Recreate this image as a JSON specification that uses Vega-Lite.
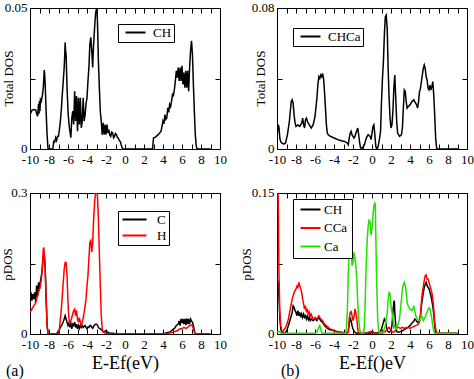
{
"$schema":"https://vega.github.io/schema/vega-lite/v6.json",
"padding":{"left":0,"top":0,"right":0,"bottom":0},
"bounds":"flush",
"columns":2,
"spacing":{"row":44,"column":57},
"resolve":{"scale":{"color":"independent","x":"independent","y":"independent"},"legend":{"color":"independent"}},
"config":{
 "view":{"stroke":"black","strokeWidth":1},
 "font":"Liberation Serif",
 "axis":{"grid":false,"domain":false,"tickColor":"black","tickSize":-5,"tickWidth":1,"labelOverlap":false,"labelFlush":false,"labelFont":"Liberation Serif","labelFontSize":13,"labelColor":"black","labelPadding":8,"titleFont":"Liberation Serif","titleFontWeight":"normal","titleColor":"black","titleFontSize":13},
 "axisX":{"labelPadding":9},
 "axisY":{"labelOffset":-1},
 "legend":{"orient":"none","symbolType":"M-2.5,0H2.5","symbolSize":64,"symbolStrokeWidth":2,"labelFont":"Liberation Serif","labelFontSize":13,"labelColor":"black","strokeColor":"black","fillColor":"white","title":null},
 "title":{"font":"Liberation Serif","fontWeight":"normal","fontSize":16,"color":"black"}
},
"datasets":{
"tl":[
{"x":-10,"y":0.0122,"s":"CH"},{"x":-9.8,"y":0.0137,"s":"CH"},{"x":-9.6,"y":0.014,"s":"CH"},{"x":-9.4,"y":0.0139,"s":"CH"},{"x":-9.3,"y":0.0125,"s":"CH"},{"x":-9.2,"y":0.0116,"s":"CH"},{"x":-9.1,"y":0.016,"s":"CH"},{"x":-9.05,"y":0.0125,"s":"CH"},{"x":-9.0,"y":0.017,"s":"CH"},{"x":-8.95,"y":0.0135,"s":"CH"},{"x":-8.9,"y":0.0176,"s":"CH"},{"x":-8.8,"y":0.017,"s":"CH"},{"x":-8.7,"y":0.019,"s":"CH"},{"x":-8.6,"y":0.0217,"s":"CH"},{"x":-8.5,"y":0.028,"s":"CH"},{"x":-8.45,"y":0.026,"s":"CH"},{"x":-8.4,"y":0.0229,"s":"CH"},{"x":-8.3,"y":0.013,"s":"CH"},{"x":-8.2,"y":0.005,"s":"CH"},{"x":-8.1,"y":0,"s":"CH"},{"x":-7.6,"y":0,"s":"CH"},{"x":-7.5,"y":0.0027,"s":"CH"},{"x":-7.4,"y":0.0025,"s":"CH"},{"x":-7.3,"y":0.004,"s":"CH"},{"x":-7.2,"y":0.003,"s":"CH"},{"x":-7.1,"y":0.0045,"s":"CH"},{"x":-7.0,"y":0.0045,"s":"CH"},{"x":-6.9,"y":0.007,"s":"CH"},{"x":-6.8,"y":0.0099,"s":"CH"},{"x":-6.7,"y":0.014,"s":"CH"},{"x":-6.6,"y":0.0194,"s":"CH"},{"x":-6.5,"y":0.024,"s":"CH"},{"x":-6.4,"y":0.0289,"s":"CH"},{"x":-6.35,"y":0.033,"s":"CH"},{"x":-6.3,"y":0.0378,"s":"CH"},{"x":-6.25,"y":0.0345,"s":"CH"},{"x":-6.2,"y":0.0336,"s":"CH"},{"x":-6.1,"y":0.0217,"s":"CH"},{"x":-6.0,"y":0.0134,"s":"CH"},{"x":-5.9,"y":0.009,"s":"CH"},{"x":-5.8,"y":0.0063,"s":"CH"},{"x":-5.7,"y":0.004,"s":"CH"},{"x":-5.6,"y":0.011,"s":"CH"},{"x":-5.5,"y":0.0134,"s":"CH"},{"x":-5.4,"y":0.0087,"s":"CH"},{"x":-5.3,"y":0.0205,"s":"CH"},{"x":-5.2,"y":0.0099,"s":"CH"},{"x":-5.1,"y":0.0188,"s":"CH"},{"x":-5.0,"y":0.0063,"s":"CH"},{"x":-4.9,"y":0.0182,"s":"CH"},{"x":-4.8,"y":0.0087,"s":"CH"},{"x":-4.7,"y":0.0182,"s":"CH"},{"x":-4.6,"y":0.0075,"s":"CH"},{"x":-4.5,"y":0.0099,"s":"CH"},{"x":-4.4,"y":0.0182,"s":"CH"},{"x":-4.3,"y":0.0099,"s":"CH"},{"x":-4.2,"y":0.0122,"s":"CH"},{"x":-4.1,"y":0.016,"s":"CH"},{"x":-4.0,"y":0.0182,"s":"CH"},{"x":-3.9,"y":0.024,"s":"CH"},{"x":-3.8,"y":0.0289,"s":"CH"},{"x":-3.7,"y":0.0372,"s":"CH"},{"x":-3.6,"y":0.0396,"s":"CH"},{"x":-3.5,"y":0.0348,"s":"CH"},{"x":-3.45,"y":0.032,"s":"CH"},{"x":-3.4,"y":0.0289,"s":"CH"},{"x":-3.35,"y":0.034,"s":"CH"},{"x":-3.3,"y":0.0372,"s":"CH"},{"x":-3.2,"y":0.0431,"s":"CH"},{"x":-3.1,"y":0.0479,"s":"CH"},{"x":-3.0,"y":0.05,"s":"CH"},{"x":-2.95,"y":0.049,"s":"CH"},{"x":-2.9,"y":0.0455,"s":"CH"},{"x":-2.8,"y":0.0312,"s":"CH"},{"x":-2.7,"y":0.0217,"s":"CH"},{"x":-2.6,"y":0.0134,"s":"CH"},{"x":-2.5,"y":0.0099,"s":"CH"},{"x":-2.4,"y":0.0051,"s":"CH"},{"x":-2.3,"y":0.0093,"s":"CH"},{"x":-2.2,"y":0.0051,"s":"CH"},{"x":-2.1,"y":0.0087,"s":"CH"},{"x":-2.0,"y":0.0051,"s":"CH"},{"x":-1.9,"y":0.0087,"s":"CH"},{"x":-1.8,"y":0.0057,"s":"CH"},{"x":-1.7,"y":0.0069,"s":"CH"},{"x":-1.6,"y":0.005,"s":"CH"},{"x":-1.5,"y":0.0045,"s":"CH"},{"x":-1.4,"y":0.006,"s":"CH"},{"x":-1.3,"y":0.0057,"s":"CH"},{"x":-1.2,"y":0.004,"s":"CH"},{"x":-1.1,"y":0.0045,"s":"CH"},{"x":-1.0,"y":0.0055,"s":"CH"},{"x":-0.9,"y":0.0051,"s":"CH"},{"x":-0.8,"y":0.004,"s":"CH"},{"x":-0.7,"y":0.0039,"s":"CH"},{"x":-0.6,"y":0.003,"s":"CH"},{"x":-0.5,"y":0.0027,"s":"CH"},{"x":-0.4,"y":0.0015,"s":"CH"},{"x":-0.3,"y":0.0004,"s":"CH"},{"x":-0.2,"y":0,"s":"CH"},{"x":2.9,"y":0,"s":"CH"},{"x":3.0,"y":0.0039,"s":"CH"},{"x":3.2,"y":0.0042,"s":"CH"},{"x":3.5,"y":0.0051,"s":"CH"},{"x":3.8,"y":0.0063,"s":"CH"},{"x":4.0,"y":0.0099,"s":"CH"},{"x":4.1,"y":0.009,"s":"CH"},{"x":4.2,"y":0.0122,"s":"CH"},{"x":4.3,"y":0.0105,"s":"CH"},{"x":4.4,"y":0.011,"s":"CH"},{"x":4.5,"y":0.0146,"s":"CH"},{"x":4.6,"y":0.013,"s":"CH"},{"x":4.7,"y":0.0158,"s":"CH"},{"x":4.8,"y":0.015,"s":"CH"},{"x":4.9,"y":0.017,"s":"CH"},{"x":5.0,"y":0.0194,"s":"CH"},{"x":5.1,"y":0.019,"s":"CH"},{"x":5.2,"y":0.0211,"s":"CH"},{"x":5.3,"y":0.0241,"s":"CH"},{"x":5.4,"y":0.0277,"s":"CH"},{"x":5.5,"y":0.0253,"s":"CH"},{"x":5.6,"y":0.0289,"s":"CH"},{"x":5.7,"y":0.0241,"s":"CH"},{"x":5.8,"y":0.0289,"s":"CH"},{"x":5.9,"y":0.0241,"s":"CH"},{"x":6.0,"y":0.0295,"s":"CH"},{"x":6.1,"y":0.0229,"s":"CH"},{"x":6.2,"y":0.0271,"s":"CH"},{"x":6.3,"y":0.0217,"s":"CH"},{"x":6.4,"y":0.0277,"s":"CH"},{"x":6.5,"y":0.0217,"s":"CH"},{"x":6.6,"y":0.0277,"s":"CH"},{"x":6.7,"y":0.0205,"s":"CH"},{"x":6.8,"y":0.0289,"s":"CH"},{"x":6.9,"y":0.0348,"s":"CH"},{"x":7.0,"y":0.0384,"s":"CH"},{"x":7.1,"y":0.0336,"s":"CH"},{"x":7.2,"y":0.0229,"s":"CH"},{"x":7.3,"y":0.0134,"s":"CH"},{"x":7.4,"y":0.0051,"s":"CH"},{"x":7.5,"y":0.001,"s":"CH"},{"x":7.6,"y":0,"s":"CH"},{"x":9.0,"y":0,"s":"CH"}
],
"tr":[
{"x":-10,"y":0.0062,"s":"CHCa"},{"x":-9.9,"y":0.0137,"s":"CHCa"},{"x":-9.8,"y":0.0128,"s":"CHCa"},{"x":-9.7,"y":0.0062,"s":"CHCa"},{"x":-9.6,"y":0.004,"s":"CHCa"},{"x":-9.5,"y":0.0034,"s":"CHCa"},{"x":-9.3,"y":0.0028,"s":"CHCa"},{"x":-9.1,"y":0.0034,"s":"CHCa"},{"x":-8.9,"y":0.0081,"s":"CHCa"},{"x":-8.7,"y":0.0156,"s":"CHCa"},{"x":-8.6,"y":0.0213,"s":"CHCa"},{"x":-8.5,"y":0.0269,"s":"CHCa"},{"x":-8.4,"y":0.0279,"s":"CHCa"},{"x":-8.3,"y":0.026,"s":"CHCa"},{"x":-8.2,"y":0.0194,"s":"CHCa"},{"x":-8.1,"y":0.015,"s":"CHCa"},{"x":-8.0,"y":0.0128,"s":"CHCa"},{"x":-7.8,"y":0.0137,"s":"CHCa"},{"x":-7.6,"y":0.0128,"s":"CHCa"},{"x":-7.4,"y":0.0147,"s":"CHCa"},{"x":-7.3,"y":0.0175,"s":"CHCa"},{"x":-7.2,"y":0.0137,"s":"CHCa"},{"x":-7.1,"y":0.0119,"s":"CHCa"},{"x":-7.0,"y":0.0166,"s":"CHCa"},{"x":-6.9,"y":0.0175,"s":"CHCa"},{"x":-6.8,"y":0.0156,"s":"CHCa"},{"x":-6.6,"y":0.0137,"s":"CHCa"},{"x":-6.4,"y":0.0119,"s":"CHCa"},{"x":-6.2,"y":0.0137,"s":"CHCa"},{"x":-6.0,"y":0.0184,"s":"CHCa"},{"x":-5.8,"y":0.0288,"s":"CHCa"},{"x":-5.7,"y":0.0363,"s":"CHCa"},{"x":-5.6,"y":0.041,"s":"CHCa"},{"x":-5.5,"y":0.04,"s":"CHCa"},{"x":-5.4,"y":0.042,"s":"CHCa"},{"x":-5.3,"y":0.041,"s":"CHCa"},{"x":-5.2,"y":0.0429,"s":"CHCa"},{"x":-5.1,"y":0.04,"s":"CHCa"},{"x":-5.0,"y":0.0326,"s":"CHCa"},{"x":-4.9,"y":0.0232,"s":"CHCa"},{"x":-4.8,"y":0.0137,"s":"CHCa"},{"x":-4.7,"y":0.009,"s":"CHCa"},{"x":-4.6,"y":0.0081,"s":"CHCa"},{"x":-4.4,"y":0.0072,"s":"CHCa"},{"x":-4.2,"y":0.0068,"s":"CHCa"},{"x":-4.0,"y":0.0062,"s":"CHCa"},{"x":-3.8,"y":0.0058,"s":"CHCa"},{"x":-3.6,"y":0.0053,"s":"CHCa"},{"x":-3.4,"y":0.005,"s":"CHCa"},{"x":-3.2,"y":0.0047,"s":"CHCa"},{"x":-2.9,"y":0.0043,"s":"CHCa"},{"x":-2.6,"y":0.0034,"s":"CHCa"},{"x":-2.5,"y":0.0024,"s":"CHCa"},{"x":-2.4,"y":0.006,"s":"CHCa"},{"x":-2.3,"y":0.009,"s":"CHCa"},{"x":-2.2,"y":0.01,"s":"CHCa"},{"x":-2.1,"y":0.008,"s":"CHCa"},{"x":-2.0,"y":0.0072,"s":"CHCa"},{"x":-1.9,"y":0.0062,"s":"CHCa"},{"x":-1.8,"y":0.007,"s":"CHCa"},{"x":-1.7,"y":0.009,"s":"CHCa"},{"x":-1.5,"y":0.0119,"s":"CHCa"},{"x":-1.4,"y":0.0081,"s":"CHCa"},{"x":-1.3,"y":0.0034,"s":"CHCa"},{"x":-1.2,"y":0.0006,"s":"CHCa"},{"x":-1.0,"y":0.0006,"s":"CHCa"},{"x":-0.8,"y":0.0025,"s":"CHCa"},{"x":-0.6,"y":0.0062,"s":"CHCa"},{"x":-0.4,"y":0.0081,"s":"CHCa"},{"x":-0.2,"y":0.0072,"s":"CHCa"},{"x":-0.1,"y":0.0053,"s":"CHCa"},{"x":0.0,"y":0.009,"s":"CHCa"},{"x":0.1,"y":0.0128,"s":"CHCa"},{"x":0.2,"y":0.0137,"s":"CHCa"},{"x":0.3,"y":0.008,"s":"CHCa"},{"x":0.4,"y":0.0015,"s":"CHCa"},{"x":0.5,"y":0,"s":"CHCa"},{"x":0.6,"y":0.0006,"s":"CHCa"},{"x":0.7,"y":0.003,"s":"CHCa"},{"x":0.8,"y":0.0062,"s":"CHCa"},{"x":0.9,"y":0.01,"s":"CHCa"},{"x":1.0,"y":0.0269,"s":"CHCa"},{"x":1.1,"y":0.04,"s":"CHCa"},{"x":1.2,"y":0.0495,"s":"CHCa"},{"x":1.3,"y":0.0646,"s":"CHCa"},{"x":1.4,"y":0.0749,"s":"CHCa"},{"x":1.5,"y":0.0759,"s":"CHCa"},{"x":1.55,"y":0.072,"s":"CHCa"},{"x":1.6,"y":0.0683,"s":"CHCa"},{"x":1.7,"y":0.0457,"s":"CHCa"},{"x":1.8,"y":0.0288,"s":"CHCa"},{"x":1.9,"y":0.0175,"s":"CHCa"},{"x":2.0,"y":0.0119,"s":"CHCa"},{"x":2.1,"y":0.0137,"s":"CHCa"},{"x":2.2,"y":0.0213,"s":"CHCa"},{"x":2.3,"y":0.0344,"s":"CHCa"},{"x":2.4,"y":0.042,"s":"CHCa"},{"x":2.5,"y":0.0288,"s":"CHCa"},{"x":2.6,"y":0.0156,"s":"CHCa"},{"x":2.7,"y":0.009,"s":"CHCa"},{"x":2.9,"y":0.0072,"s":"CHCa"},{"x":3.1,"y":0.0081,"s":"CHCa"},{"x":3.2,"y":0.0119,"s":"CHCa"},{"x":3.3,"y":0.0232,"s":"CHCa"},{"x":3.4,"y":0.0335,"s":"CHCa"},{"x":3.5,"y":0.0326,"s":"CHCa"},{"x":3.6,"y":0.0269,"s":"CHCa"},{"x":3.7,"y":0.0232,"s":"CHCa"},{"x":3.8,"y":0.0241,"s":"CHCa"},{"x":4.0,"y":0.025,"s":"CHCa"},{"x":4.2,"y":0.0269,"s":"CHCa"},{"x":4.4,"y":0.0279,"s":"CHCa"},{"x":4.5,"y":0.0269,"s":"CHCa"},{"x":4.7,"y":0.025,"s":"CHCa"},{"x":4.8,"y":0.0232,"s":"CHCa"},{"x":4.9,"y":0.0269,"s":"CHCa"},{"x":5.0,"y":0.0326,"s":"CHCa"},{"x":5.1,"y":0.0344,"s":"CHCa"},{"x":5.2,"y":0.0382,"s":"CHCa"},{"x":5.3,"y":0.042,"s":"CHCa"},{"x":5.4,"y":0.0457,"s":"CHCa"},{"x":5.5,"y":0.0476,"s":"CHCa"},{"x":5.6,"y":0.0457,"s":"CHCa"},{"x":5.7,"y":0.041,"s":"CHCa"},{"x":5.8,"y":0.0392,"s":"CHCa"},{"x":5.9,"y":0.0344,"s":"CHCa"},{"x":6.0,"y":0.0335,"s":"CHCa"},{"x":6.1,"y":0.0363,"s":"CHCa"},{"x":6.2,"y":0.0335,"s":"CHCa"},{"x":6.3,"y":0.0354,"s":"CHCa"},{"x":6.4,"y":0.0382,"s":"CHCa"},{"x":6.5,"y":0.0307,"s":"CHCa"},{"x":6.6,"y":0.0194,"s":"CHCa"},{"x":6.7,"y":0.0062,"s":"CHCa"},{"x":6.8,"y":0.0006,"s":"CHCa"},{"x":6.9,"y":0,"s":"CHCa"},{"x":9.1,"y":0,"s":"CHCa"}
],
"bl":[
{"x":-10,"y":0.0816,"s":"C"},{"x":-9.9,"y":0.0887,"s":"C"},{"x":-9.8,"y":0.071,"s":"C"},{"x":-9.7,"y":0.085,"s":"C"},{"x":-9.6,"y":0.0745,"s":"C"},{"x":-9.5,"y":0.0887,"s":"C"},{"x":-9.4,"y":0.067,"s":"C"},{"x":-9.3,"y":0.103,"s":"C"},{"x":-9.2,"y":0.08,"s":"C"},{"x":-9.1,"y":0.11,"s":"C"},{"x":-9.0,"y":0.0957,"s":"C"},{"x":-8.9,"y":0.113,"s":"C"},{"x":-8.8,"y":0.124,"s":"C"},{"x":-8.7,"y":0.14,"s":"C"},{"x":-8.6,"y":0.165,"s":"C"},{"x":-8.5,"y":0.17,"s":"C"},{"x":-8.4,"y":0.14,"s":"C"},{"x":-8.3,"y":0.075,"s":"C"},{"x":-8.2,"y":0.018,"s":"C"},{"x":-8.1,"y":0.001,"s":"C"},{"x":-8.0,"y":0,"s":"C"},{"x":-7.2,"y":0,"s":"C"},{"x":-7.1,"y":0.0035,"s":"C"},{"x":-7.0,"y":0.007,"s":"C"},{"x":-6.9,"y":0.01,"s":"C"},{"x":-6.8,"y":0.014,"s":"C"},{"x":-6.7,"y":0.018,"s":"C"},{"x":-6.6,"y":0.021,"s":"C"},{"x":-6.5,"y":0.026,"s":"C"},{"x":-6.4,"y":0.032,"s":"C"},{"x":-6.3,"y":0.039,"s":"C"},{"x":-6.2,"y":0.032,"s":"C"},{"x":-6.1,"y":0.025,"s":"C"},{"x":-6.0,"y":0.018,"s":"C"},{"x":-5.9,"y":0.023,"s":"C"},{"x":-5.8,"y":0.014,"s":"C"},{"x":-5.7,"y":0.025,"s":"C"},{"x":-5.6,"y":0.011,"s":"C"},{"x":-5.5,"y":0.021,"s":"C"},{"x":-5.4,"y":0.018,"s":"C"},{"x":-5.3,"y":0.025,"s":"C"},{"x":-5.2,"y":0.014,"s":"C"},{"x":-5.1,"y":0.021,"s":"C"},{"x":-5.0,"y":0.011,"s":"C"},{"x":-4.9,"y":0.018,"s":"C"},{"x":-4.8,"y":0.012,"s":"C"},{"x":-4.7,"y":0.018,"s":"C"},{"x":-4.6,"y":0.014,"s":"C"},{"x":-4.5,"y":0.018,"s":"C"},{"x":-4.4,"y":0.014,"s":"C"},{"x":-4.3,"y":0.016,"s":"C"},{"x":-4.2,"y":0.018,"s":"C"},{"x":-4.1,"y":0.014,"s":"C"},{"x":-4.0,"y":0.011,"s":"C"},{"x":-3.9,"y":0.015,"s":"C"},{"x":-3.8,"y":0.014,"s":"C"},{"x":-3.7,"y":0.018,"s":"C"},{"x":-3.6,"y":0.018,"s":"C"},{"x":-3.5,"y":0.014,"s":"C"},{"x":-3.4,"y":0.012,"s":"C"},{"x":-3.3,"y":0.016,"s":"C"},{"x":-3.2,"y":0.019,"s":"C"},{"x":-3.1,"y":0.021,"s":"C"},{"x":-3.0,"y":0.021,"s":"C"},{"x":-2.9,"y":0.019,"s":"C"},{"x":-2.8,"y":0.014,"s":"C"},{"x":-2.7,"y":0.012,"s":"C"},{"x":-2.6,"y":0.011,"s":"C"},{"x":-2.5,"y":0.009,"s":"C"},{"x":-2.4,"y":0.007,"s":"C"},{"x":-2.3,"y":0.005,"s":"C"},{"x":-2.2,"y":0.004,"s":"C"},{"x":-2.1,"y":0.006,"s":"C"},{"x":-2.0,"y":0.007,"s":"C"},{"x":-1.9,"y":0.005,"s":"C"},{"x":-1.8,"y":0.004,"s":"C"},{"x":-1.6,"y":0.0015,"s":"C"},{"x":-1.2,"y":0.0015,"s":"C"},{"x":-1.0,"y":0,"s":"C"},{"x":4.0,"y":0,"s":"C"},{"x":4.5,"y":0.0035,"s":"C"},{"x":4.8,"y":0.005,"s":"C"},{"x":5.0,"y":0.009,"s":"C"},{"x":5.2,"y":0.012,"s":"C"},{"x":5.4,"y":0.018,"s":"C"},{"x":5.6,"y":0.021,"s":"C"},{"x":5.7,"y":0.028,"s":"C"},{"x":5.8,"y":0.018,"s":"C"},{"x":5.9,"y":0.032,"s":"C"},{"x":6.0,"y":0.023,"s":"C"},{"x":6.1,"y":0.032,"s":"C"},{"x":6.2,"y":0.021,"s":"C"},{"x":6.3,"y":0.032,"s":"C"},{"x":6.4,"y":0.019,"s":"C"},{"x":6.5,"y":0.033,"s":"C"},{"x":6.6,"y":0.021,"s":"C"},{"x":6.7,"y":0.032,"s":"C"},{"x":6.8,"y":0.021,"s":"C"},{"x":6.9,"y":0.032,"s":"C"},{"x":7.0,"y":0.028,"s":"C"},{"x":7.1,"y":0.025,"s":"C"},{"x":7.2,"y":0.018,"s":"C"},{"x":7.3,"y":0.007,"s":"C"},{"x":7.4,"y":0,"s":"C"},{"x":9.0,"y":0,"s":"C"},
{"x":-10,"y":0.046,"s":"H"},{"x":-9.8,"y":0.053,"s":"H"},{"x":-9.6,"y":0.06,"s":"H"},{"x":-9.4,"y":0.067,"s":"H"},{"x":-9.2,"y":0.0816,"s":"H"},{"x":-9.0,"y":0.0957,"s":"H"},{"x":-8.9,"y":0.103,"s":"H"},{"x":-8.8,"y":0.117,"s":"H"},{"x":-8.7,"y":0.145,"s":"H"},{"x":-8.6,"y":0.181,"s":"H"},{"x":-8.55,"y":0.184,"s":"H"},{"x":-8.5,"y":0.174,"s":"H"},{"x":-8.4,"y":0.138,"s":"H"},{"x":-8.3,"y":0.074,"s":"H"},{"x":-8.2,"y":0.018,"s":"H"},{"x":-8.1,"y":0,"s":"H"},{"x":-7.0,"y":0,"s":"H"},{"x":-6.9,"y":0.011,"s":"H"},{"x":-6.8,"y":0.032,"s":"H"},{"x":-6.7,"y":0.053,"s":"H"},{"x":-6.6,"y":0.0816,"s":"H"},{"x":-6.5,"y":0.11,"s":"H"},{"x":-6.4,"y":0.138,"s":"H"},{"x":-6.3,"y":0.152,"s":"H"},{"x":-6.2,"y":0.152,"s":"H"},{"x":-6.1,"y":0.124,"s":"H"},{"x":-6.0,"y":0.067,"s":"H"},{"x":-5.9,"y":0.032,"s":"H"},{"x":-5.8,"y":0.021,"s":"H"},{"x":-5.7,"y":0.028,"s":"H"},{"x":-5.6,"y":0.035,"s":"H"},{"x":-5.5,"y":0.0426,"s":"H"},{"x":-5.4,"y":0.05,"s":"H"},{"x":-5.3,"y":0.053,"s":"H"},{"x":-5.2,"y":0.039,"s":"H"},{"x":-5.1,"y":0.05,"s":"H"},{"x":-5.0,"y":0.032,"s":"H"},{"x":-4.9,"y":0.025,"s":"H"},{"x":-4.8,"y":0.035,"s":"H"},{"x":-4.7,"y":0.025,"s":"H"},{"x":-4.6,"y":0.018,"s":"H"},{"x":-4.5,"y":0.025,"s":"H"},{"x":-4.4,"y":0.035,"s":"H"},{"x":-4.3,"y":0.046,"s":"H"},{"x":-4.2,"y":0.06,"s":"H"},{"x":-4.1,"y":0.0745,"s":"H"},{"x":-4.0,"y":0.103,"s":"H"},{"x":-3.9,"y":0.124,"s":"H"},{"x":-3.8,"y":0.16,"s":"H"},{"x":-3.7,"y":0.195,"s":"H"},{"x":-3.6,"y":0.199,"s":"H"},{"x":-3.5,"y":0.174,"s":"H"},{"x":-3.4,"y":0.195,"s":"H"},{"x":-3.3,"y":0.245,"s":"H"},{"x":-3.2,"y":0.28,"s":"H"},{"x":-3.1,"y":0.3,"s":"H"},{"x":-3.05,"y":0.31,"s":"H"},{"x":-3.0,"y":0.305,"s":"H"},{"x":-2.9,"y":0.294,"s":"H"},{"x":-2.8,"y":0.245,"s":"H"},{"x":-2.7,"y":0.174,"s":"H"},{"x":-2.6,"y":0.103,"s":"H"},{"x":-2.5,"y":0.039,"s":"H"},{"x":-2.4,"y":0.011,"s":"H"},{"x":-2.3,"y":0.004,"s":"H"},{"x":-2.0,"y":0.001,"s":"H"},{"x":-1.5,"y":0,"s":"H"},{"x":4.0,"y":0,"s":"H"},{"x":4.5,"y":0.001,"s":"H"},{"x":5.0,"y":0.0035,"s":"H"},{"x":5.5,"y":0.007,"s":"H"},{"x":5.8,"y":0.011,"s":"H"},{"x":6.0,"y":0.011,"s":"H"},{"x":6.2,"y":0.014,"s":"H"},{"x":6.4,"y":0.012,"s":"H"},{"x":6.6,"y":0.014,"s":"H"},{"x":6.8,"y":0.018,"s":"H"},{"x":7.0,"y":0.019,"s":"H"},{"x":7.1,"y":0.017,"s":"H"},{"x":7.2,"y":0.011,"s":"H"},{"x":7.3,"y":0.004,"s":"H"},{"x":7.4,"y":0,"s":"H"},{"x":9.0,"y":0,"s":"H"}
],
"br":[
{"x":-10,"y":0.037,"s":"CH"},{"x":-9.95,"y":0.05,"s":"CH"},{"x":-9.9,"y":0.0567,"s":"CH"},{"x":-9.8,"y":0.041,"s":"CH"},{"x":-9.7,"y":0.016,"s":"CH"},{"x":-9.6,"y":0.0053,"s":"CH"},{"x":-9.5,"y":0.0018,"s":"CH"},{"x":-9.2,"y":0.0011,"s":"CH"},{"x":-9.0,"y":0.0028,"s":"CH"},{"x":-8.8,"y":0.0089,"s":"CH"},{"x":-8.6,"y":0.016,"s":"CH"},{"x":-8.4,"y":0.023,"s":"CH"},{"x":-8.3,"y":0.03,"s":"CH"},{"x":-8.2,"y":0.0284,"s":"CH"},{"x":-8.1,"y":0.0248,"s":"CH"},{"x":-8.0,"y":0.023,"s":"CH"},{"x":-7.9,"y":0.0195,"s":"CH"},{"x":-7.8,"y":0.0248,"s":"CH"},{"x":-7.7,"y":0.0195,"s":"CH"},{"x":-7.6,"y":0.023,"s":"CH"},{"x":-7.5,"y":0.0177,"s":"CH"},{"x":-7.4,"y":0.0213,"s":"CH"},{"x":-7.3,"y":0.0177,"s":"CH"},{"x":-7.2,"y":0.0213,"s":"CH"},{"x":-7.1,"y":0.0177,"s":"CH"},{"x":-7.0,"y":0.0195,"s":"CH"},{"x":-6.9,"y":0.016,"s":"CH"},{"x":-6.8,"y":0.0188,"s":"CH"},{"x":-6.7,"y":0.0152,"s":"CH"},{"x":-6.6,"y":0.0177,"s":"CH"},{"x":-6.5,"y":0.0142,"s":"CH"},{"x":-6.4,"y":0.016,"s":"CH"},{"x":-6.2,"y":0.0142,"s":"CH"},{"x":-6.0,"y":0.016,"s":"CH"},{"x":-5.8,"y":0.0142,"s":"CH"},{"x":-5.6,"y":0.0177,"s":"CH"},{"x":-5.5,"y":0.016,"s":"CH"},{"x":-5.4,"y":0.0142,"s":"CH"},{"x":-5.2,"y":0.0124,"s":"CH"},{"x":-5.0,"y":0.0089,"s":"CH"},{"x":-4.8,"y":0.007,"s":"CH"},{"x":-4.6,"y":0.0053,"s":"CH"},{"x":-4.4,"y":0.0046,"s":"CH"},{"x":-4.0,"y":0.0035,"s":"CH"},{"x":-3.6,"y":0.0025,"s":"CH"},{"x":-3.2,"y":0.0018,"s":"CH"},{"x":-2.8,"y":0.0014,"s":"CH"},{"x":-2.5,"y":0.0018,"s":"CH"},{"x":-2.4,"y":0.0106,"s":"CH"},{"x":-2.3,"y":0.0177,"s":"CH"},{"x":-2.2,"y":0.0142,"s":"CH"},{"x":-2.1,"y":0.0089,"s":"CH"},{"x":-2.0,"y":0.0053,"s":"CH"},{"x":-1.9,"y":0.0035,"s":"CH"},{"x":-1.8,"y":0.0018,"s":"CH"},{"x":-1.6,"y":0.0007,"s":"CH"},{"x":-0.2,"y":0.0007,"s":"CH"},{"x":0.0,"y":0.0018,"s":"CH"},{"x":0.4,"y":0.0007,"s":"CH"},{"x":0.8,"y":0.0018,"s":"CH"},{"x":1.0,"y":0.0053,"s":"CH"},{"x":1.2,"y":0.0124,"s":"CH"},{"x":1.3,"y":0.016,"s":"CH"},{"x":1.4,"y":0.0142,"s":"CH"},{"x":1.5,"y":0.0089,"s":"CH"},{"x":1.6,"y":0.0035,"s":"CH"},{"x":1.8,"y":0.0018,"s":"CH"},{"x":2.0,"y":0.0035,"s":"CH"},{"x":2.1,"y":0.0089,"s":"CH"},{"x":2.2,"y":0.023,"s":"CH"},{"x":2.3,"y":0.0337,"s":"CH"},{"x":2.35,"y":0.0355,"s":"CH"},{"x":2.4,"y":0.023,"s":"CH"},{"x":2.5,"y":0.0089,"s":"CH"},{"x":2.6,"y":0.0025,"s":"CH"},{"x":2.8,"y":0.0018,"s":"CH"},{"x":3.0,"y":0.0025,"s":"CH"},{"x":3.2,"y":0.0035,"s":"CH"},{"x":3.4,"y":0.0046,"s":"CH"},{"x":3.6,"y":0.006,"s":"CH"},{"x":3.8,"y":0.007,"s":"CH"},{"x":4.0,"y":0.0089,"s":"CH"},{"x":4.2,"y":0.0117,"s":"CH"},{"x":4.4,"y":0.0135,"s":"CH"},{"x":4.5,"y":0.016,"s":"CH"},{"x":4.6,"y":0.0152,"s":"CH"},{"x":4.8,"y":0.0124,"s":"CH"},{"x":5.0,"y":0.0142,"s":"CH"},{"x":5.1,"y":0.0195,"s":"CH"},{"x":5.2,"y":0.03,"s":"CH"},{"x":5.3,"y":0.037,"s":"CH"},{"x":5.4,"y":0.044,"s":"CH"},{"x":5.5,"y":0.0496,"s":"CH"},{"x":5.6,"y":0.053,"s":"CH"},{"x":5.7,"y":0.055,"s":"CH"},{"x":5.8,"y":0.0514,"s":"CH"},{"x":5.9,"y":0.0496,"s":"CH"},{"x":6.0,"y":0.048,"s":"CH"},{"x":6.1,"y":0.0443,"s":"CH"},{"x":6.2,"y":0.041,"s":"CH"},{"x":6.3,"y":0.0355,"s":"CH"},{"x":6.4,"y":0.03,"s":"CH"},{"x":6.5,"y":0.0213,"s":"CH"},{"x":6.6,"y":0.0089,"s":"CH"},{"x":6.7,"y":0.0018,"s":"CH"},{"x":6.8,"y":0.0007,"s":"CH"},{"x":9.0,"y":0.0007,"s":"CH"},
{"x":-10,"y":0.16,"s":"CCa"},{"x":-9.9,"y":0.16,"s":"CCa"},{"x":-9.85,"y":0.122,"s":"CCa"},{"x":-9.8,"y":0.069,"s":"CCa"},{"x":-9.7,"y":0.023,"s":"CCa"},{"x":-9.6,"y":0.0089,"s":"CCa"},{"x":-9.5,"y":0.0035,"s":"CCa"},{"x":-9.4,"y":0.0028,"s":"CCa"},{"x":-9.2,"y":0.0053,"s":"CCa"},{"x":-9.0,"y":0.0089,"s":"CCa"},{"x":-8.8,"y":0.016,"s":"CCa"},{"x":-8.6,"y":0.0266,"s":"CCa"},{"x":-8.4,"y":0.037,"s":"CCa"},{"x":-8.2,"y":0.044,"s":"CCa"},{"x":-8.0,"y":0.048,"s":"CCa"},{"x":-7.9,"y":0.051,"s":"CCa"},{"x":-7.8,"y":0.0496,"s":"CCa"},{"x":-7.7,"y":0.055,"s":"CCa"},{"x":-7.6,"y":0.051,"s":"CCa"},{"x":-7.5,"y":0.048,"s":"CCa"},{"x":-7.4,"y":0.044,"s":"CCa"},{"x":-7.3,"y":0.037,"s":"CCa"},{"x":-7.2,"y":0.032,"s":"CCa"},{"x":-7.1,"y":0.0266,"s":"CCa"},{"x":-7.0,"y":0.03,"s":"CCa"},{"x":-6.9,"y":0.023,"s":"CCa"},{"x":-6.8,"y":0.0266,"s":"CCa"},{"x":-6.7,"y":0.021,"s":"CCa"},{"x":-6.6,"y":0.023,"s":"CCa"},{"x":-6.5,"y":0.0177,"s":"CCa"},{"x":-6.4,"y":0.021,"s":"CCa"},{"x":-6.2,"y":0.016,"s":"CCa"},{"x":-6.0,"y":0.0177,"s":"CCa"},{"x":-5.8,"y":0.016,"s":"CCa"},{"x":-5.7,"y":0.0177,"s":"CCa"},{"x":-5.6,"y":0.0195,"s":"CCa"},{"x":-5.5,"y":0.0177,"s":"CCa"},{"x":-5.4,"y":0.016,"s":"CCa"},{"x":-5.2,"y":0.0142,"s":"CCa"},{"x":-5.0,"y":0.0106,"s":"CCa"},{"x":-4.8,"y":0.0089,"s":"CCa"},{"x":-4.6,"y":0.007,"s":"CCa"},{"x":-4.4,"y":0.0053,"s":"CCa"},{"x":-4.2,"y":0.0046,"s":"CCa"},{"x":-4.0,"y":0.0035,"s":"CCa"},{"x":-3.6,"y":0.0018,"s":"CCa"},{"x":-3.2,"y":0.0011,"s":"CCa"},{"x":-2.8,"y":0.0007,"s":"CCa"},{"x":-2.5,"y":0.0018,"s":"CCa"},{"x":-2.4,"y":0.016,"s":"CCa"},{"x":-2.3,"y":0.023,"s":"CCa"},{"x":-2.2,"y":0.0238,"s":"CCa"},{"x":-2.1,"y":0.0195,"s":"CCa"},{"x":-2.0,"y":0.0142,"s":"CCa"},{"x":-1.9,"y":0.0177,"s":"CCa"},{"x":-1.8,"y":0.0266,"s":"CCa"},{"x":-1.7,"y":0.023,"s":"CCa"},{"x":-1.6,"y":0.016,"s":"CCa"},{"x":-1.5,"y":0.0053,"s":"CCa"},{"x":-1.4,"y":0.0007,"s":"CCa"},{"x":-0.6,"y":0.0007,"s":"CCa"},{"x":-0.4,"y":0.0018,"s":"CCa"},{"x":-0.2,"y":0.0025,"s":"CCa"},{"x":0.0,"y":0.0028,"s":"CCa"},{"x":0.2,"y":0.0018,"s":"CCa"},{"x":0.4,"y":0.0007,"s":"CCa"},{"x":0.6,"y":0.0007,"s":"CCa"},{"x":0.8,"y":0.0018,"s":"CCa"},{"x":1.0,"y":0.0035,"s":"CCa"},{"x":1.2,"y":0.0018,"s":"CCa"},{"x":1.4,"y":0.0025,"s":"CCa"},{"x":1.6,"y":0.0053,"s":"CCa"},{"x":1.8,"y":0.007,"s":"CCa"},{"x":2.0,"y":0.0035,"s":"CCa"},{"x":2.2,"y":0.0018,"s":"CCa"},{"x":2.4,"y":0.0028,"s":"CCa"},{"x":2.6,"y":0.007,"s":"CCa"},{"x":2.8,"y":0.007,"s":"CCa"},{"x":3.0,"y":0.006,"s":"CCa"},{"x":3.2,"y":0.007,"s":"CCa"},{"x":3.4,"y":0.006,"s":"CCa"},{"x":3.6,"y":0.007,"s":"CCa"},{"x":3.8,"y":0.007,"s":"CCa"},{"x":4.0,"y":0.006,"s":"CCa"},{"x":4.2,"y":0.007,"s":"CCa"},{"x":4.4,"y":0.008,"s":"CCa"},{"x":4.6,"y":0.0089,"s":"CCa"},{"x":4.8,"y":0.0096,"s":"CCa"},{"x":5.0,"y":0.0124,"s":"CCa"},{"x":5.1,"y":0.0195,"s":"CCa"},{"x":5.2,"y":0.0337,"s":"CCa"},{"x":5.3,"y":0.044,"s":"CCa"},{"x":5.4,"y":0.051,"s":"CCa"},{"x":5.5,"y":0.0567,"s":"CCa"},{"x":5.6,"y":0.062,"s":"CCa"},{"x":5.7,"y":0.0628,"s":"CCa"},{"x":5.8,"y":0.0585,"s":"CCa"},{"x":5.9,"y":0.0585,"s":"CCa"},{"x":6.0,"y":0.055,"s":"CCa"},{"x":6.1,"y":0.051,"s":"CCa"},{"x":6.2,"y":0.048,"s":"CCa"},{"x":6.3,"y":0.044,"s":"CCa"},{"x":6.4,"y":0.037,"s":"CCa"},{"x":6.5,"y":0.0266,"s":"CCa"},{"x":6.6,"y":0.0124,"s":"CCa"},{"x":6.7,"y":0.0053,"s":"CCa"},{"x":6.8,"y":0.0018,"s":"CCa"},{"x":7.0,"y":0.0007,"s":"CCa"},{"x":9.0,"y":0.0007,"s":"CCa"},
{"x":-10,"y":0.0018,"s":"Ca"},{"x":-9.8,"y":0.0028,"s":"Ca"},{"x":-9.6,"y":0.0011,"s":"Ca"},{"x":-9.0,"y":0.0007,"s":"Ca"},{"x":-6.0,"y":0.0007,"s":"Ca"},{"x":-5.8,"y":0.0018,"s":"Ca"},{"x":-5.6,"y":0.007,"s":"Ca"},{"x":-5.5,"y":0.0089,"s":"Ca"},{"x":-5.4,"y":0.0053,"s":"Ca"},{"x":-5.3,"y":0.0018,"s":"Ca"},{"x":-5.2,"y":0.0007,"s":"Ca"},{"x":-2.8,"y":0.0007,"s":"Ca"},{"x":-2.7,"y":0.0053,"s":"Ca"},{"x":-2.6,"y":0.023,"s":"Ca"},{"x":-2.5,"y":0.062,"s":"Ca"},{"x":-2.4,"y":0.094,"s":"Ca"},{"x":-2.3,"y":0.099,"s":"Ca"},{"x":-2.2,"y":0.0904,"s":"Ca"},{"x":-2.1,"y":0.0727,"s":"Ca"},{"x":-2.0,"y":0.0762,"s":"Ca"},{"x":-1.9,"y":0.0869,"s":"Ca"},{"x":-1.8,"y":0.0816,"s":"Ca"},{"x":-1.7,"y":0.0727,"s":"Ca"},{"x":-1.6,"y":0.0585,"s":"Ca"},{"x":-1.5,"y":0.0337,"s":"Ca"},{"x":-1.4,"y":0.016,"s":"Ca"},{"x":-1.3,"y":0.0053,"s":"Ca"},{"x":-1.2,"y":0.0018,"s":"Ca"},{"x":-1.1,"y":0.0007,"s":"Ca"},{"x":-0.9,"y":0.0007,"s":"Ca"},{"x":-0.8,"y":0.0089,"s":"Ca"},{"x":-0.7,"y":0.0408,"s":"Ca"},{"x":-0.6,"y":0.0762,"s":"Ca"},{"x":-0.5,"y":0.101,"s":"Ca"},{"x":-0.4,"y":0.115,"s":"Ca"},{"x":-0.3,"y":0.122,"s":"Ca"},{"x":-0.2,"y":0.119,"s":"Ca"},{"x":-0.1,"y":0.105,"s":"Ca"},{"x":0.0,"y":0.112,"s":"Ca"},{"x":0.1,"y":0.126,"s":"Ca"},{"x":0.2,"y":0.1365,"s":"Ca"},{"x":0.3,"y":0.14,"s":"Ca"},{"x":0.35,"y":0.1365,"s":"Ca"},{"x":0.4,"y":0.105,"s":"Ca"},{"x":0.5,"y":0.0514,"s":"Ca"},{"x":0.6,"y":0.016,"s":"Ca"},{"x":0.7,"y":0.0035,"s":"Ca"},{"x":0.8,"y":0.0007,"s":"Ca"},{"x":1.0,"y":0.0007,"s":"Ca"},{"x":1.2,"y":0.0025,"s":"Ca"},{"x":1.4,"y":0.0089,"s":"Ca"},{"x":1.5,"y":0.016,"s":"Ca"},{"x":1.6,"y":0.023,"s":"Ca"},{"x":1.7,"y":0.037,"s":"Ca"},{"x":1.8,"y":0.044,"s":"Ca"},{"x":1.9,"y":0.0425,"s":"Ca"},{"x":2.0,"y":0.03,"s":"Ca"},{"x":2.1,"y":0.023,"s":"Ca"},{"x":2.2,"y":0.016,"s":"Ca"},{"x":2.3,"y":0.007,"s":"Ca"},{"x":2.4,"y":0.0089,"s":"Ca"},{"x":2.5,"y":0.0053,"s":"Ca"},{"x":2.6,"y":0.0053,"s":"Ca"},{"x":2.8,"y":0.0124,"s":"Ca"},{"x":2.9,"y":0.016,"s":"Ca"},{"x":3.0,"y":0.0266,"s":"Ca"},{"x":3.1,"y":0.037,"s":"Ca"},{"x":3.2,"y":0.048,"s":"Ca"},{"x":3.3,"y":0.053,"s":"Ca"},{"x":3.4,"y":0.055,"s":"Ca"},{"x":3.5,"y":0.0514,"s":"Ca"},{"x":3.6,"y":0.044,"s":"Ca"},{"x":3.7,"y":0.0337,"s":"Ca"},{"x":3.8,"y":0.03,"s":"Ca"},{"x":3.9,"y":0.0284,"s":"Ca"},{"x":4.0,"y":0.0266,"s":"Ca"},{"x":4.2,"y":0.0248,"s":"Ca"},{"x":4.3,"y":0.0266,"s":"Ca"},{"x":4.4,"y":0.03,"s":"Ca"},{"x":4.5,"y":0.0248,"s":"Ca"},{"x":4.6,"y":0.0195,"s":"Ca"},{"x":4.8,"y":0.016,"s":"Ca"},{"x":5.0,"y":0.0142,"s":"Ca"},{"x":5.1,"y":0.016,"s":"Ca"},{"x":5.2,"y":0.0195,"s":"Ca"},{"x":5.3,"y":0.0177,"s":"Ca"},{"x":5.4,"y":0.0142,"s":"Ca"},{"x":5.5,"y":0.016,"s":"Ca"},{"x":5.6,"y":0.0177,"s":"Ca"},{"x":5.7,"y":0.0213,"s":"Ca"},{"x":5.8,"y":0.023,"s":"Ca"},{"x":5.9,"y":0.0266,"s":"Ca"},{"x":6.0,"y":0.028,"s":"Ca"},{"x":6.1,"y":0.0266,"s":"Ca"},{"x":6.2,"y":0.0213,"s":"Ca"},{"x":6.3,"y":0.016,"s":"Ca"},{"x":6.4,"y":0.0089,"s":"Ca"},{"x":6.5,"y":0.0035,"s":"Ca"},{"x":6.6,"y":0.0007,"s":"Ca"},{"x":9.0,"y":0.0007,"s":"Ca"}
]
},
"concat":[
{"width":190,"height":141,"data":{"name":"tl"},
 "layer":[
  {"mark":{"type":"line","strokeWidth":1.5,"clip":true},
   "encoding":{
    "x":{"field":"x","type":"quantitative","scale":{"domain":[-10,10],"nice":false},"axis":{"values":[-10,-9,-8,-7,-6,-5,-4,-3,-2,-1,0,1,2,3,4,5,6,7,8,9,10],"labelExpr":"datum.value % 2 == 0 ? '' + datum.value : ''","title":null}},
    "y":{"field":"y","type":"quantitative","scale":{"domain":[0,0.05],"nice":false},"axis":{"values":[0,0.025,0.05],"labelExpr":"datum.value == 0 ? '0' : datum.value == 0.05 ? '0.05' : ''","title":"Total DOS","titleX":-22,"titleY":70,"titleBaseline":"middle","titleAlign":"center"}},
    "color":{"field":"s","type":"nominal","scale":{"domain":["CH"],"range":["black"]},"legend":{"legendX":88,"legendY":16,"padding":2,"symbolOffset":9,"labelOffset":11}}
   }},
  {"mark":{"type":"line","opacity":0},
   "encoding":{
    "x":{"field":"x","type":"quantitative","axis":{"orient":"top","values":[-10,-9,-8,-7,-6,-5,-4,-3,-2,-1,0,1,2,3,4,5,6,7,8,9,10],"labels":false,"title":null}},
    "y":{"field":"y","type":"quantitative","axis":{"orient":"right","values":[0,0.025,0.05],"labels":false,"title":null}}
   }}
 ],
 "resolve":{"axis":{"x":"independent","y":"independent"}}
},
{"width":190,"height":141,"data":{"name":"tr"},
 "layer":[
  {"mark":{"type":"line","strokeWidth":1.5,"clip":true},
   "encoding":{
    "x":{"field":"x","type":"quantitative","scale":{"domain":[-10,10],"nice":false},"axis":{"values":[-10,-9,-8,-7,-6,-5,-4,-3,-2,-1,0,1,2,3,4,5,6,7,8,9,10],"labelExpr":"datum.value % 2 == 0 ? '' + datum.value : ''","title":null}},
    "y":{"field":"y","type":"quantitative","scale":{"domain":[0,0.08],"nice":false},"axis":{"values":[0,0.04,0.08],"labelExpr":"datum.value == 0 ? '0' : datum.value == 0.08 ? '0.08' : ''","title":"Total DOS","titleX":-17,"titleY":70,"titleBaseline":"middle","titleAlign":"center"}},
    "color":{"field":"s","type":"nominal","scale":{"domain":["CHCa"],"range":["black"]},"legend":{"legendX":16,"legendY":20,"padding":2,"symbolOffset":9,"labelOffset":11}}
   }},
  {"mark":{"type":"line","opacity":0},
   "encoding":{
    "x":{"field":"x","type":"quantitative","axis":{"orient":"top","values":[-10,-9,-8,-7,-6,-5,-4,-3,-2,-1,0,1,2,3,4,5,6,7,8,9,10],"labels":false,"title":null}},
    "y":{"field":"y","type":"quantitative","axis":{"orient":"right","values":[0,0.04,0.08],"labels":false,"title":null}}
   }}
 ],
 "resolve":{"axis":{"x":"independent","y":"independent"}}
},
{"width":190,"height":141,"data":{"name":"bl"},
 "title":{"text":"(a)","orient":"bottom","anchor":"start","frame":"group","dx":-24,"offset":-9},
 "layer":[
  {"mark":{"type":"line","strokeWidth":1.5,"clip":true},
   "encoding":{
    "x":{"field":"x","type":"quantitative","scale":{"domain":[-10,10],"nice":false},"axis":{"values":[-10,-9,-8,-7,-6,-5,-4,-3,-2,-1,0,1,2,3,4,5,6,7,8,9,10],"labelExpr":"datum.value % 2 == 0 ? '' + datum.value : ''","title":"E-Ef(eV)","titleFontSize":18,"titleY":29,"titleBaseline":"middle"}},
    "y":{"field":"y","type":"quantitative","scale":{"domain":[0,0.3],"nice":false},"axis":{"values":[0,0.15,0.3],"labelExpr":"datum.value == 0 ? '0' : datum.value == 0.3 ? '0.3' : ''","title":"pDOS","titleX":-23,"titleY":71,"titleBaseline":"middle","titleAlign":"center"}},
    "color":{"field":"s","type":"nominal","scale":{"domain":["C","H"],"range":["black","#ff0000"]},"legend":{"legendX":88,"legendY":18,"padding":2,"rowPadding":2,"symbolSize":92,"symbolOffset":8,"labelOffset":16}}
   }},
  {"mark":{"type":"line","opacity":0},
   "encoding":{
    "x":{"field":"x","type":"quantitative","axis":{"orient":"top","values":[-10,-9,-8,-7,-6,-5,-4,-3,-2,-1,0,1,2,3,4,5,6,7,8,9,10],"labels":false,"title":null}},
    "y":{"field":"y","type":"quantitative","axis":{"orient":"right","values":[0,0.15,0.3],"labels":false,"title":null}}
   }}
 ],
 "resolve":{"axis":{"x":"independent","y":"independent"}}
},
{"width":190,"height":141,"data":{"name":"br"},
 "title":{"text":"(b)","orient":"bottom","anchor":"start","frame":"group","dx":4,"offset":-9},
 "layer":[
  {"mark":{"type":"line","strokeWidth":1.5,"clip":true},
   "encoding":{
    "x":{"field":"x","type":"quantitative","scale":{"domain":[-10,10],"nice":false},"axis":{"values":[-10,-9,-8,-7,-6,-5,-4,-3,-2,-1,0,1,2,3,4,5,6,7,8,9,10],"labelExpr":"datum.value % 2 == 0 ? '' + datum.value : ''","title":"E-Ef()eV","titleFontSize":18,"titleY":29,"titleBaseline":"middle"}},
    "y":{"field":"y","type":"quantitative","scale":{"domain":[0,0.15],"nice":false},"axis":{"values":[0,0.075,0.15],"labelExpr":"datum.value == 0 ? '0' : datum.value == 0.15 ? '0.15' : ''","title":"pDOS","titleX":-31,"titleY":71,"titleBaseline":"middle","titleAlign":"center"}},
    "color":{"field":"s","type":"nominal","scale":{"domain":["CH","CCa","Ca"],"range":["black","#ff0000","#22e000"]},"legend":{"legendX":16,"legendY":6,"padding":4,"rowPadding":4.5,"symbolOffset":7,"labelOffset":7}}
   }},
  {"mark":{"type":"line","opacity":0},
   "encoding":{
    "x":{"field":"x","type":"quantitative","axis":{"orient":"top","values":[-10,-9,-8,-7,-6,-5,-4,-3,-2,-1,0,1,2,3,4,5,6,7,8,9,10],"labels":false,"title":null}},
    "y":{"field":"y","type":"quantitative","axis":{"orient":"right","values":[0,0.075,0.15],"labels":false,"title":null}}
   }}
 ],
 "resolve":{"axis":{"x":"independent","y":"independent"}}
}
]
}
